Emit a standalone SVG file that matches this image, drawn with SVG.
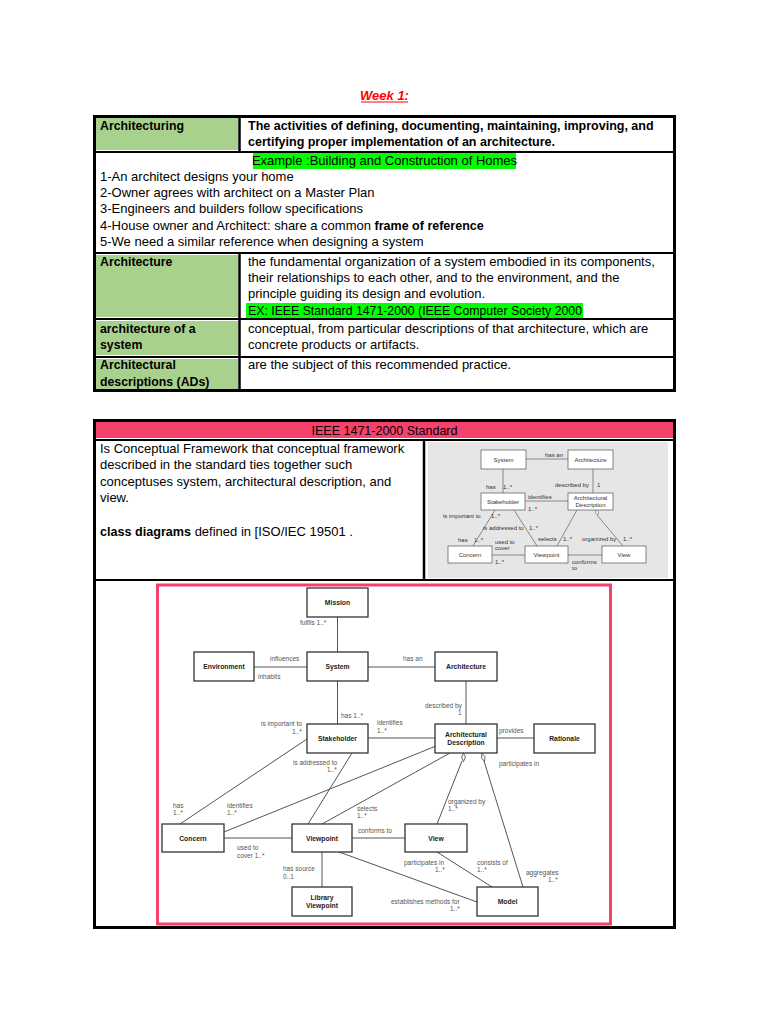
<svg xmlns="http://www.w3.org/2000/svg" width="768" height="1024" viewBox="0 0 768 1024">
<style>
.t{font-family:"Liberation Sans",Arial,sans-serif;font-size:13px;fill:#000}
.b{font-weight:bold;font-size:12.3px}
.grid{stroke:#000;fill:none}
.sn{fill:#fff;stroke:#666;stroke-width:0.8}
.st{font-family:"Liberation Sans",Arial,sans-serif;font-size:6px;fill:#333}
.sl{stroke:#888;stroke-width:1;fill:none}
.bn{fill:#fff;stroke:#333;stroke-width:1.3}
.bt{font-family:"Liberation Sans",Arial,sans-serif;font-size:6.8px;font-weight:bold;fill:#222;text-anchor:middle}
.bl{font-family:"Liberation Sans",Arial,sans-serif;font-size:6.5px;fill:#555}
.cl{stroke:#555;stroke-width:1;fill:none}
</style>
<rect width="768" height="1024" fill="#fff"/>

<!-- Title -->
<g id="title">
<text x="384.5" y="100" font-family="Liberation Sans, Arial, sans-serif" font-weight="bold" font-style="italic" font-size="13" fill="#f00" text-anchor="middle">Week 1:</text>
<line x1="361" y1="102" x2="408" y2="102" stroke="#f00" stroke-width="1"/>
</g>

<!-- Table 1 -->
<g id="table1">
<rect x="96" y="118" width="142" height="32" fill="#A9D18E"/>
<rect x="96" y="255" width="142" height="62" fill="#A9D18E"/>
<rect x="96" y="321" width="142" height="34" fill="#A9D18E"/>
<rect x="96" y="359" width="142" height="31" fill="#A9D18E"/>
<rect x="253" y="153" width="263" height="16" fill="#00FF00"/>
<rect x="246" y="303" width="337" height="16" fill="#00FF00"/>
<rect x="94.5" y="116.5" width="580" height="274" class="grid" stroke-width="3"/>
<line x1="94" y1="152" x2="675" y2="152" class="grid" stroke-width="2"/>
<line x1="94" y1="253" x2="675" y2="253" class="grid" stroke-width="2"/>
<line x1="94" y1="319" x2="675" y2="319" class="grid" stroke-width="2"/>
<line x1="94" y1="357" x2="675" y2="357" class="grid" stroke-width="2"/>
<line x1="239.5" y1="117" x2="239.5" y2="152" class="grid" stroke-width="2.5"/>
<line x1="239.5" y1="253" x2="239.5" y2="390" class="grid" stroke-width="2.5"/>
<text x="100" y="130" class="t b">Architecturing</text>
<text x="248" y="130" class="t b" style="font-size:12.5px">The activities of defining, documenting, maintaining, improving, and</text>
<text x="248" y="146" class="t b" style="font-size:12.5px">certifying proper implementation of an architecture.</text>
<text x="384.5" y="165" class="t" text-anchor="middle">Example :Building and Construction of Homes</text>
<text x="100" y="181" class="t">1-An architect designs your home</text>
<text x="100" y="197" class="t">2-Owner agrees with architect on a Master Plan</text>
<text x="100" y="213" class="t">3-Engineers and builders follow specifications</text>
<text x="100" y="230" class="t">4-House owner and Architect: share a common <tspan class="b" style="font-size:12.5px">frame of reference</tspan></text>
<text x="100" y="246" class="t">5-We need a similar reference when designing a system</text>
<text x="100" y="266" class="t b">Architecture</text>
<text x="248" y="266" class="t">the fundamental organization of a system embodied in its components,</text>
<text x="248" y="282" class="t">their relationships to each other, and to the environment, and the</text>
<text x="248" y="298" class="t">principle guiding its design and evolution.</text>
<text x="248" y="315" class="t" textLength="334" lengthAdjust="spacingAndGlyphs">EX: IEEE Standard 1471-2000 (IEEE Computer Society 2000</text>
<text x="100" y="333" class="t b">architecture of a</text>
<text x="100" y="349" class="t b">system</text>
<text x="248" y="333" class="t">conceptual, from particular descriptions of that architecture, which are</text>
<text x="248" y="349" class="t">concrete products or artifacts.</text>
<text x="100" y="369" class="t b">Architectural</text>
<text x="100" y="386" class="t b">descriptions (ADs)</text>
<text x="248" y="369" class="t">are the subject of this recommended practice.</text>
</g>

<!-- Table 2 -->
<g id="table2">
<rect x="96" y="421" width="577" height="17" fill="#F5426C"/>
<rect x="428" y="442" width="240" height="136" fill="#E6E6E6"/>
<rect x="94.5" y="420.5" width="580" height="507" class="grid" stroke-width="3"/>
<line x1="94" y1="440" x2="675" y2="440" class="grid" stroke-width="2"/>
<line x1="94" y1="580" x2="675" y2="580" class="grid" stroke-width="2"/>
<line x1="424" y1="440" x2="424" y2="580" class="grid" stroke-width="2.5"/>
<text x="384.5" y="435" class="t" text-anchor="middle" style="font-size:12.5px">IEEE 1471-2000 Standard</text>
<text x="100" y="453" class="t">Is Conceptual Framework that conceptual framework</text>
<text x="100" y="469" class="t">described in the standard ties together such</text>
<text x="100" y="486" class="t">conceptuses system, architectural description, and</text>
<text x="100" y="502" class="t">view.</text>
<text x="100" y="536" class="t"><tspan class="b" style="font-size:12.6px">class diagrams</tspan> defined in [ISO/IEC 19501 .</text>
<rect x="157.5" y="585" width="453" height="339" fill="none" stroke="#F5426C" stroke-width="3"/>
</g>

<!-- Small diagram -->
<g id="small-diagram">
<g id="s-connectors">
<line x1="526" y1="459" x2="568" y2="459" class="sl"/>
<line x1="503" y1="469" x2="503" y2="493" class="sl"/>
<line x1="593" y1="469" x2="593" y2="493" class="sl"/>
<line x1="525" y1="501" x2="568" y2="501" class="sl"/>
<line x1="495" y1="510" x2="473" y2="546" class="sl"/>
<line x1="514" y1="510" x2="537" y2="546" class="sl"/>
<line x1="577" y1="510" x2="557" y2="546" class="sl"/>
<line x1="597" y1="515" x2="623" y2="546" class="sl"/>
<path d="M596,509.5 L598.5,511.5 L598,515 L595.5,513 Z" fill="#fff" stroke="#777" stroke-width="0.7"/>
<line x1="492" y1="555" x2="525" y2="555" class="sl"/>
<line x1="568" y1="555" x2="602" y2="555" class="sl"/>
</g>
<g id="s-system"><rect x="481" y="450" width="45" height="19" class="sn"/><text x="503.5" y="461.5" class="st" text-anchor="middle">System</text></g>
<g id="s-architecture"><rect x="568" y="450" width="45" height="19" class="sn"/><text x="590.5" y="461.5" class="st" text-anchor="middle">Architecture</text></g>
<g id="s-stakeholder"><rect x="481" y="493" width="44" height="17" class="sn"/><text x="503" y="503.5" class="st" text-anchor="middle">Stakeholder</text></g>
<g id="s-ad"><rect x="568" y="493" width="45" height="17" class="sn"/><text x="590.5" y="500" class="st" text-anchor="middle">Architectural</text><text x="590.5" y="507" class="st" text-anchor="middle">Description</text></g>
<g id="s-concern"><rect x="448" y="546" width="44" height="17" class="sn"/><text x="470" y="556.5" class="st" text-anchor="middle">Concern</text></g>
<g id="s-viewpoint"><rect x="525" y="546" width="43" height="17" class="sn"/><text x="546.5" y="556.5" class="st" text-anchor="middle">Viewpoint</text></g>
<g id="s-view"><rect x="602" y="546" width="44" height="17" class="sn"/><text x="624" y="556.5" class="st" text-anchor="middle">View</text></g>
<g id="s-labels">
<text x="545" y="457" class="st">has an</text>
<text x="486" y="489" class="st">has</text>
<text x="503" y="489" class="st">1..*</text>
<text x="555" y="487" class="st">described by</text>
<text x="597" y="487" class="st">1</text>
<text x="528" y="499" class="st">identifies</text>
<text x="528" y="511" class="st">1..*</text>
<text x="443" y="518" class="st">is important to</text>
<text x="491" y="518" class="st">1..*</text>
<text x="483" y="530" class="st">is addressed to</text>
<text x="529" y="530" class="st">1..*</text>
<text x="458" y="542" class="st">has</text>
<text x="474" y="542" class="st">1..*</text>
<text x="495" y="544" class="st">used to</text>
<text x="495" y="550" class="st">cover</text>
<text x="495" y="564" class="st">1..*</text>
<text x="538" y="541" class="st">selects</text>
<text x="563" y="541" class="st">1..*</text>
<text x="582" y="541" class="st">organized by</text>
<text x="623" y="541" class="st">1..*</text>
<text x="572" y="564" class="st">conforms</text>
<text x="572" y="570" class="st">to</text>
</g>
</g>

<!-- Big diagram -->
<g id="connectors">
<line x1="337.5" y1="617" x2="337.5" y2="652" class="cl"/>
<line x1="254" y1="667" x2="307" y2="667" class="cl"/>
<line x1="368" y1="667" x2="435" y2="667" class="cl"/>
<line x1="337.5" y1="681" x2="337.5" y2="724" class="cl"/>
<line x1="466" y1="681" x2="466" y2="724" class="cl"/>
<line x1="368" y1="738" x2="435" y2="738" class="cl"/>
<line x1="497" y1="738" x2="534" y2="738" class="cl" stroke-width="1.6"/>
<line x1="307" y1="739" x2="180" y2="824" class="cl"/>
<line x1="352" y1="753" x2="308" y2="824" class="cl"/>
<line x1="436" y1="746" x2="224" y2="832" class="cl"/>
<line x1="450" y1="753" x2="322" y2="824" class="cl"/>
<line x1="462" y1="761" x2="437" y2="824" class="cl"/>
<line x1="484" y1="761" x2="523" y2="887" class="cl"/>
<path d="M463.5,753.5 L465.5,757 L463.5,761.5 L461.5,757 Z" fill="#fff" stroke="#555" stroke-width="0.9"/>
<path d="M482,753.5 L485,756.5 L484.5,761.5 L481.5,758 Z" fill="#fff" stroke="#555" stroke-width="0.9"/>
<line x1="224" y1="838" x2="292" y2="838" class="cl"/>
<line x1="352" y1="838" x2="405" y2="838" class="cl"/>
<line x1="322" y1="852" x2="322" y2="887" class="cl"/>
<line x1="339" y1="852" x2="477" y2="902" class="cl"/>
<line x1="437" y1="852" x2="492" y2="887" class="cl"/>
</g>
<g id="mission"><rect x="307" y="588" width="61" height="29" class="bn"/><text x="337.5" y="605" class="bt">Mission</text></g>
<g id="environment"><rect x="194" y="652" width="60" height="29" class="bn"/><text x="224" y="669" class="bt">Environment</text></g>
<g id="system"><rect x="307" y="652" width="61" height="29" class="bn"/><text x="337.5" y="669" class="bt">System</text></g>
<g id="architecture"><rect x="435" y="652" width="62" height="29" class="bn"/><text x="466" y="669" class="bt">Architecture</text></g>
<g id="stakeholder"><rect x="307" y="724" width="61" height="29" class="bn"/><text x="337.5" y="741" class="bt">Stakeholder</text></g>
<g id="architectural-description"><rect x="435" y="724" width="62" height="29" class="bn"/><text x="466" y="737" class="bt">Architectural</text><text x="466" y="745" class="bt">Description</text></g>
<g id="rationale"><rect x="534" y="724" width="61" height="29" class="bn"/><text x="564.5" y="741" class="bt">Rationale</text></g>
<g id="concern"><rect x="162" y="824" width="62" height="28" class="bn"/><text x="193" y="840.5" class="bt">Concern</text></g>
<g id="viewpoint"><rect x="292" y="824" width="60" height="28" class="bn"/><text x="322" y="840.5" class="bt">Viewpoint</text></g>
<g id="view"><rect x="405" y="824" width="62" height="28" class="bn"/><text x="436" y="840.5" class="bt">View</text></g>
<g id="library-viewpoint"><rect x="292" y="887" width="60" height="29" class="bn"/><text x="322" y="900" class="bt">Library</text><text x="322" y="908" class="bt">Viewpoint</text></g>
<g id="model"><rect x="477" y="887" width="61" height="29" class="bn"/><text x="507.5" y="904" class="bt">Model</text></g>
<g id="labels">
<text x="300" y="625" class="bl">fulfils 1..*</text>
<text x="270" y="661" class="bl">influences</text>
<text x="258" y="679" class="bl">inhabits</text>
<text x="403" y="661" class="bl">has an</text>
<text x="341" y="718" class="bl">has 1..*</text>
<text x="425" y="708" class="bl">described by</text>
<text x="458" y="715" class="bl">1</text>
<text x="261" y="726" class="bl">is important to</text>
<text x="292" y="734" class="bl">1..*</text>
<text x="377" y="725" class="bl">identifies</text>
<text x="377" y="733" class="bl">1..*</text>
<text x="499" y="733" class="bl">provides</text>
<text x="499" y="766" class="bl">participates in</text>
<text x="293" y="765" class="bl">is addressed to</text>
<text x="327" y="772" class="bl">1..*</text>
<text x="173" y="808" class="bl">has</text>
<text x="173" y="815" class="bl">1..*</text>
<text x="227" y="808" class="bl">identifies</text>
<text x="227" y="815" class="bl">1..*</text>
<text x="357" y="811" class="bl">selects</text>
<text x="357" y="818" class="bl">1..*</text>
<text x="448" y="804" class="bl">organized by</text>
<text x="448" y="811" class="bl">1..*</text>
<text x="358" y="833" class="bl">conforms to</text>
<text x="237" y="850" class="bl">used to</text>
<text x="237" y="858" class="bl">cover 1..*</text>
<text x="283" y="871" class="bl">has source</text>
<text x="283" y="879" class="bl">0..1</text>
<text x="404" y="865" class="bl">participates in</text>
<text x="435" y="872" class="bl">1..*</text>
<text x="477" y="865" class="bl">consists of</text>
<text x="477" y="872" class="bl">1..*</text>
<text x="526" y="875" class="bl">aggregates</text>
<text x="548" y="882" class="bl">1..*</text>
<text x="391" y="904" class="bl">establishes methods for</text>
<text x="450" y="911" class="bl">1..*</text>
</g>
</svg>
